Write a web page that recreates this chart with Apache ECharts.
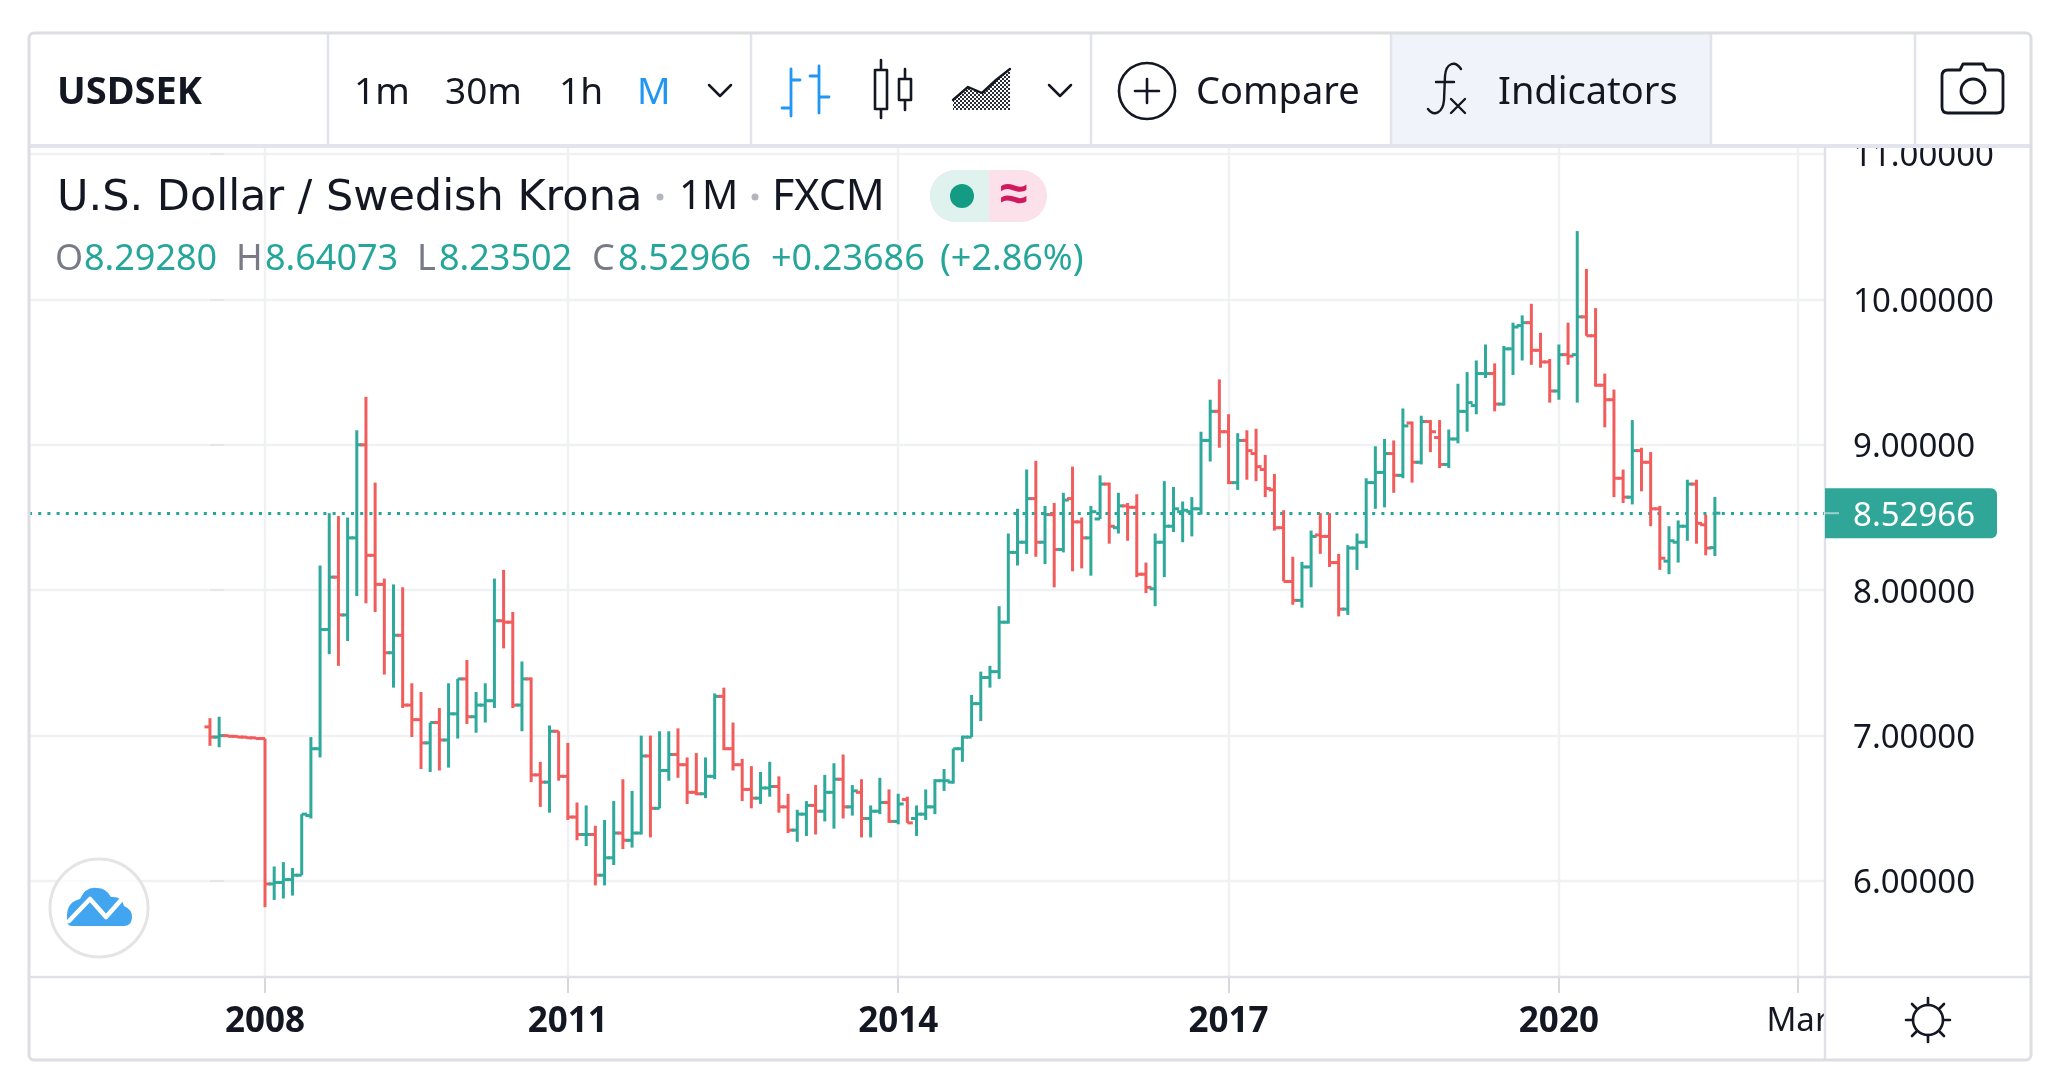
<!DOCTYPE html>
<html>
<head>
<meta charset="utf-8">
<style>html,body{margin:0;padding:0;background:#fff}#container{width:2048px;height:1076px}</style>
<script src="https://cdn.jsdelivr.net/npm/echarts@6/dist/echarts.min.js"></script>
</head>
<body>
<div id="container"></div>
<script>
// one entry per bar on the axis, months without data are simply not listed (tradingview style spacing)
var months = [
  '2007-07','2007-08','2007-09','2007-10','2007-11','2007-12',
  '2008-01','2008-02','2008-03','2008-04','2008-05','2008-06','2008-07','2008-08','2008-09',
  '2009-01','2009-02','2009-03','2009-04','2009-05','2009-06','2009-07','2009-08','2009-09','2009-10','2009-11','2009-12',
  '2010-01','2010-02','2010-03','2010-04','2010-05','2010-06','2010-07','2010-08','2010-09','2010-10','2010-11','2010-12',
  '2011-01','2011-02','2011-03','2011-04','2011-05','2011-06','2011-07','2011-08','2011-09','2011-10','2011-11','2011-12',
  '2012-01','2012-02','2012-03','2012-04','2012-05','2012-06','2012-07','2012-08','2012-09','2012-10','2012-11','2012-12',
  '2013-01','2013-02','2013-03','2013-04','2013-05','2013-06','2013-07','2013-08','2013-09','2013-10','2013-11','2013-12',
  '2014-01','2014-02','2014-03','2014-04','2014-05','2014-06','2014-07','2014-08','2014-09','2014-10','2014-11','2014-12',
  '2015-01','2015-02','2015-03','2015-04','2015-05','2015-06','2015-07','2015-08','2015-09','2015-10','2015-11','2015-12',
  '2016-01','2016-02','2016-03','2016-04','2016-05','2016-06','2016-07','2016-08','2016-09','2016-10','2016-11','2016-12',
  '2017-01','2017-02','2017-03','2017-04','2017-05','2017-06','2017-07','2017-08','2017-09','2017-10','2017-11','2017-12',
  '2018-01','2018-02','2018-03','2018-04','2018-05','2018-06','2018-07','2018-08','2018-09','2018-10','2018-11','2018-12',
  '2019-01','2019-02','2019-03','2019-04','2019-05','2019-06','2019-07','2019-08','2019-09','2019-10','2019-11','2019-12',
  '2020-01','2020-02','2020-03','2020-04','2020-05','2020-06','2020-07','2020-08','2020-09','2020-10','2020-11','2020-12',
  '2021-01','2021-02','2021-03','2021-04','2021-05','2021-06',
  '2021-07','2021-08','2021-09','2021-10','2021-11','2021-12','2022-01','2022-02','2022-03'
];

var opens = [
  7.06,6.99,7.00,6.995,6.99,6.985,6.98,5.98,5.99,6.01,
  6.04,6.45,6.91,7.73,8.09,7.83,8.36,9.00,8.24,8.04,
  7.57,7.69,7.21,7.11,6.95,7.09,6.97,7.15,7.39,7.13,
  7.21,7.24,7.79,7.78,7.21,7.39,6.73,6.68,7.03,6.72,
  6.44,6.32,6.32,6.04,6.16,6.33,6.28,6.33,6.86,6.50,
  6.76,6.87,6.80,6.61,6.60,6.72,7.27,6.91,6.80,6.63,
  6.57,6.64,6.65,6.51,6.35,6.46,6.52,6.48,6.61,6.70,
  6.51,6.61,6.43,6.48,6.54,6.41,6.56,6.43,6.46,6.51,
  6.69,6.68,6.91,6.99,7.22,7.40,7.44,7.78,8.26,8.33,
  8.63,8.33,8.52,8.28,8.63,8.47,8.36,8.49,8.73,8.43,
  8.58,8.57,8.11,8.01,8.33,8.44,8.54,8.54,8.56,9.03,
  9.23,9.09,8.74,9.03,8.94,8.83,8.69,8.43,8.06,7.93,
  8.16,8.38,8.37,8.19,7.87,8.29,8.33,8.74,8.81,8.94,
  8.79,9.15,8.88,9.16,9.05,8.865,9.04,9.23,9.27,9.49,
  9.49,9.28,9.66,9.82,9.84,9.65,9.57,9.37,9.62,9.62,
  9.88,9.75,9.41,9.31,8.77,8.64,8.96,8.88,8.56,8.20,
  8.33,8.44,8.73,8.45,8.2928
];
var highs = [
  7.12,7.13,7.005,7.00,6.995,6.99,6.98,6.10,6.13,6.09,
  6.46,6.99,8.17,8.53,8.51,8.50,9.10,9.33,8.74,8.08,
  8.04,8.02,7.36,7.30,7.09,7.19,7.36,7.39,7.52,7.30,
  7.36,8.08,8.14,7.85,7.51,7.40,6.82,7.07,7.03,6.95,
  6.54,6.52,6.38,6.42,6.55,6.70,6.62,7.00,7.00,7.03,
  7.03,7.05,6.85,6.88,6.85,7.29,7.33,7.09,6.84,6.79,
  6.75,6.82,6.72,6.60,6.49,6.55,6.66,6.73,6.81,6.87,
  6.66,6.70,6.52,6.71,6.63,6.60,6.58,6.52,6.63,6.70,
  6.77,6.91,7.00,7.28,7.44,7.48,7.89,8.39,8.56,8.83,
  8.89,8.58,8.60,8.67,8.85,8.50,8.58,8.79,8.74,8.67,
  8.60,8.66,8.19,8.39,8.75,8.71,8.61,8.64,9.09,9.31,
  9.45,9.21,9.08,9.10,9.11,8.93,8.80,8.55,8.23,8.195,
  8.41,8.53,8.53,8.25,8.31,8.39,8.77,8.99,9.04,9.03,
  9.25,9.16,9.20,9.17,9.17,9.105,9.42,9.50,9.58,9.69,
  9.56,9.68,9.84,9.89,9.97,9.77,9.59,9.69,9.84,10.47,
  10.21,9.94,9.49,9.38,8.83,9.17,8.98,8.95,8.58,8.44,
  8.48,8.76,8.76,8.52,8.64073
];
var lows = [
  6.93,6.92,6.99,6.985,6.98,6.975,5.82,5.87,5.88,5.90,
  6.04,6.43,6.85,7.56,7.48,7.65,7.96,7.91,7.85,7.42,
  7.33,7.19,6.99,6.77,6.75,6.76,6.78,6.98,7.08,7.02,
  7.09,7.19,7.60,7.19,7.03,6.68,6.51,6.47,6.69,6.42,
  6.28,6.24,5.97,5.97,6.11,6.22,6.23,6.32,6.30,6.50,
  6.69,6.71,6.53,6.59,6.57,6.70,6.90,6.76,6.55,6.50,
  6.53,6.58,6.47,6.33,6.27,6.31,6.32,6.41,6.36,6.43,
  6.45,6.30,6.30,6.46,6.40,6.39,6.40,6.31,6.42,6.46,
  6.62,6.67,6.82,6.99,7.10,7.33,7.39,7.77,8.17,8.25,
  8.23,8.18,8.02,8.26,8.13,8.15,8.10,8.49,8.32,8.39,
  8.34,8.09,7.98,7.89,8.09,8.40,8.33,8.37,8.52,8.885,
  8.98,8.73,8.69,8.76,8.75,8.64,8.41,8.06,7.90,7.88,
  8.02,8.25,8.16,7.82,7.83,8.14,8.29,8.56,8.57,8.67,
  8.77,8.74,8.865,8.95,8.84,8.84,9.01,9.09,9.21,9.46,
  9.23,9.27,9.48,9.58,9.55,9.53,9.29,9.31,9.55,9.29,
  9.75,9.40,9.12,8.64,8.60,8.59,8.68,8.44,8.14,8.11,
  8.19,8.34,8.32,8.24,8.23502
];
var closes = [
  6.99,7.00,6.995,6.99,6.985,6.98,5.98,5.99,6.01,6.04,
  6.46,6.91,7.73,8.09,7.83,8.36,9.00,8.24,8.04,7.57,
  7.69,7.21,7.11,6.95,7.09,6.97,7.15,7.39,7.13,7.21,
  7.24,7.79,7.78,7.21,7.39,6.73,6.68,7.03,6.72,6.44,
  6.32,6.32,6.04,6.16,6.33,6.28,6.33,6.86,6.50,6.76,
  6.87,6.80,6.61,6.60,6.72,7.27,6.91,6.80,6.63,6.57,
  6.64,6.65,6.51,6.35,6.46,6.52,6.48,6.61,6.70,6.51,
  6.62,6.43,6.48,6.54,6.41,6.53,6.40,6.46,6.51,6.69,
  6.69,6.91,6.99,7.22,7.40,7.44,7.78,8.26,8.33,8.63,
  8.33,8.52,8.28,8.62,8.47,8.36,8.54,8.73,8.44,8.58,
  8.57,8.11,8.02,8.33,8.44,8.56,8.55,8.56,9.03,9.23,
  9.09,8.74,9.03,8.96,8.85,8.70,8.43,8.06,7.93,8.16,
  8.37,8.37,8.19,7.87,8.29,8.33,8.74,8.81,8.94,8.79,
  9.13,8.88,9.16,9.09,8.865,9.04,9.23,9.29,9.49,9.49,
  9.28,9.66,9.81,9.84,9.65,9.57,9.37,9.62,9.61,9.88,
  9.75,9.41,9.31,8.77,8.64,8.96,8.88,8.56,8.22,8.34,
  8.44,8.73,8.46,8.29,8.52966
];

var xTickMonths = ['2008-01','2011-01','2014-01','2017-01','2020-01','2022-03'];
var xTickLabels = ['2008','2011','2014','2017','2020','Mar'];
var yTicks = [6,7,8,9,10,11];

var upColor = '#26a69a', downColor = '#ef5350';
var barUp = '#2fa99b', barDown = '#f15c5c';
var font = '"Noto Sans", sans-serif';
var titleFont = '"DejaVu Sans", sans-serif';
var ink = '#131722', lineGray = '#e0e3eb', gridGray = '#eff1f3';

var xTicks = xTickMonths.map(function (m) { return months.indexOf(m); });
var lastClose = closes[closes.length - 1];
var bars = closes.map(function (c, i) { return [i, opens[i], highs[i], lows[i], c]; });

function renderBar(params, api) {
  var i = api.value(0);
  var top = api.coord([i, api.value(2)]);
  var bottom = api.coord([i, api.value(3)]);
  var open = api.coord([i, api.value(1)]);
  var close = api.coord([i, api.value(4)]);
  var style = {
    stroke: api.value(4) >= api.value(1) ? barUp : barDown,
    lineWidth: 3, fill: null, lineCap: 'butt'
  };
  return {
    type: 'group',
    children: [
      { type: 'line', shape: { x1: top[0], y1: top[1], x2: bottom[0], y2: bottom[1] }, style: style },
      { type: 'line', shape: { x1: open[0] - 5.5, y1: open[1], x2: open[0], y2: open[1] }, style: style },
      { type: 'line', shape: { x1: close[0], y1: close[1], x2: close[0] + 5.5, y2: close[1] }, style: style }
    ]
  };
}

// toolbar and frame helpers
function ln(x1, y1, x2, y2, color, w, z) {
  return { type: 'line', z: z || 50, shape: { x1: x1, y1: y1, x2: x2, y2: y2 },
    style: { stroke: color || lineGray, lineWidth: w || 2.5 } };
}
function txt(x, y, s, size, color, weight, family) {
  return { type: 'text', z: 52, x: x, y: y,
    style: { text: s, fill: color || ink, font: (weight || 'normal') + ' ' + (size || 38) + 'px ' + (family || font),
      textAlign: 'left', textVerticalAlign: 'middle' } };
}
// graphic has no path type, so each icon is registered as its own shape
var iconCount = 0;
function pth(d, color, w, fill) {
  var name = 'toolbarIcon' + (iconCount++);
  echarts.graphic.registerShape(name, echarts.graphic.extendPath(d, {}));
  return { type: name, z: 52,
    style: { stroke: color === null ? 'none' : (color || ink), lineWidth: w || 2.5, fill: fill || 'none', lineCap: 'round', lineJoin: 'round' } };
}

// dotted fill of the area style button
var dots = document.createElement('canvas');
dots.width = 4;
dots.height = 4;
var dotsCtx = dots.getContext('2d');
dotsCtx.fillStyle = '#2a2e39';
dotsCtx.fillRect(0, 0, 2, 2);
dotsCtx.fillRect(2, 2, 2, 2);

var elements = [
  // white panels over the axes
  { type: 'rect', z: 48, shape: { x: 29, y: 33, width: 2002, height: 113 }, style: { fill: '#fff' } },
  { type: 'rect', z: 48, shape: { x: 1391, y: 34, width: 320, height: 112 }, style: { fill: '#f0f3fa' } },
  { type: 'rect', z: 48, shape: { x: 1826, y: 979, width: 205, height: 80 }, style: { fill: '#fff' } },
  { type: 'rect', z: 51, shape: { x: 29, y: 33, width: 2002, height: 1027, r: 5 }, style: { fill: 'none', stroke: '#dcdee2', lineWidth: 3 } },
  ln(29, 146, 2031, 146, '#e3e5ee', 4),
  ln(328, 33, 328, 146), ln(751, 33, 751, 146), ln(1091, 33, 1091, 146),
  ln(1391, 33, 1391, 146), ln(1711, 33, 1711, 146), ln(1915, 33, 1915, 146),
  ln(1825, 146, 1825, 1060, '#dfe1e6', 2.5),
  ln(29, 977, 2031, 977, '#dfe1e6', 2.5),

  txt(57, 93, 'USDSEK', 38, ink, 'bold'),
  txt(354, 93, '1m', 37), txt(445, 93, '30m', 37), txt(559, 93, '1h', 37),
  txt(637, 93, 'M', 37, '#2196f3'),
  pth('M709,85 L720,96 L731,85', ink, 2.5),
  pth('M1049,85 L1060,96 L1071,85', ink, 2.5),

  // bar, candle and area style buttons
  pth('M791,69 L791,116 M782,108 L791,108 M791,80 L800,80 M819,66 L819,113 M810,76 L819,76 M819,97 L829,97', '#2196f3', 2.8),
  pth('M881,60 L881,70 M881,109 L881,118 M875,70 L887,70 L887,109 L875,109 Z M905,69 L905,79 M905,100 L905,110 M899,79 L911,79 L911,100 L899,100 Z', ink, 2.6),
  pth('M953,110 L953,100 L968,87 L982,93 L996,80 L1010,69 L1010,110 Z', null, 0, { image: dots, repeat: 'repeat' }),
  pth('M953,100 L968,87 L982,93 L996,80 L1010,69', ink, 2.4),

  { type: 'circle', z: 52, shape: { cx: 1147, cy: 91, r: 28 }, style: { fill: 'none', stroke: ink, lineWidth: 2.6 } },
  pth('M1135,91 L1159,91 M1147,79 L1147,103', ink, 2.6),
  txt(1196, 93, 'Compare', 38),
  pth('M1461,69 C1455,60 1446,63 1445,76 L1444,100 C1443,113 1434,117 1428,109 M1436,82 L1454,82 M1451,99 L1465,113 M1465,99 L1451,113', ink, 2.4),
  txt(1498, 93, 'Indicators', 38),
  pth('M1942,107 L1942,76 Q1942,70 1948,70 L1960,70 L1963,64 L1983,64 L1986,70 L1997,70 Q2003,70 2003,76 L2003,107 Q2003,113 1997,113 L1948,113 Q1942,113 1942,107 Z', ink, 2.8),
  { type: 'circle', z: 52, shape: { cx: 1973, cy: 91, r: 12 }, style: { fill: 'none', stroke: ink, lineWidth: 2.8 } },

  // legend rows
  txt(57, 199, 'U.S. Dollar / Swedish Krona', 43, ink, 'normal', titleFont),
  { type: 'circle', z: 52, shape: { cx: 660, cy: 197, r: 3.5 }, style: { fill: '#b2b5be' } },
  txt(679, 198, '1M', 40),
  { type: 'circle', z: 52, shape: { cx: 755, cy: 197, r: 3.5 }, style: { fill: '#b2b5be' } },
  txt(772, 198, 'FXCM', 43),
  { type: 'rect', z: 49, shape: { x: 930, y: 170, width: 117, height: 52, r: 26 }, style: { fill: '#fce0ea' } },
  { type: 'rect', z: 50, shape: { x: 930, y: 170, width: 59, height: 52, r: [26, 0, 0, 26] }, style: { fill: '#dff2ee' } },
  { type: 'circle', z: 52, shape: { cx: 962, cy: 196, r: 12 }, style: { fill: '#149b84' } },
  txt(1000, 196, '≈', 50, '#d11a5d', 'bold'),

  txt(55, 260, 'O', 36, '#787b86'), txt(84, 260, '8.29280', 36, upColor),
  txt(236, 260, 'H', 36, '#787b86'), txt(265, 260, '8.64073', 36, upColor),
  txt(417, 260, 'L', 36, '#787b86'), txt(439, 260, '8.23502', 36, upColor),
  txt(592, 260, 'C', 36, '#787b86'), txt(618, 260, '8.52966', 36, upColor),
  txt(771, 260, '+0.23686', 36, upColor), txt(940, 260, '(+2.86%)', 36, upColor),

  // logo badge and the theme button in the corner
  { type: 'circle', z: 47, shape: { cx: 99, cy: 908, r: 49 }, style: { fill: 'rgba(255,255,255,0.7)', stroke: '#e4e4e4', lineWidth: 3 } },
  pth('M72,926 Q66,926 67,916 Q67,902 80,899 Q86,886 97,888 Q106,888 111,897 Q122,896 124,906 Q133,910 132,918 Q131,926 124,926 Z', null, 0, '#42a5f0'),
  pth('M69,921 L90,899 L106,917 L122,899', '#fff', 4.5),

  { type: 'circle', z: 52, shape: { cx: 1928, cy: 1020, r: 15 }, style: { fill: 'none', stroke: ink, lineWidth: 2.6 } },
  pth('M1928,998 L1928,1005 M1928,1035 L1928,1042 M1906,1020 L1913,1020 M1943,1020 L1950,1020 M1912,1004 L1917,1009 M1939,1031 L1944,1036 M1912,1036 L1917,1031 M1939,1009 L1944,1004', ink, 2.6)
];

var dom = document.getElementById('container');
var myChart = echarts.init(dom);

var option = {
  animation: false,
  backgroundColor: '#fff',
  grid: { left: 29, right: 223, top: 146, bottom: 99 },
  xAxis: {
    type: 'value',
    min: -19.72,
    max: 176,
    axisLine: { show: false },
    axisTick: { show: true, length: 16, customValues: xTicks, lineStyle: { color: '#d6d8dd', width: 2 } },
    axisLabel: {
      customValues: xTicks,
      margin: 28,
      hideOverlap: false,
      showMinLabel: true,
      showMaxLabel: true,
      formatter: function (v) {
        var s = xTickLabels[xTicks.indexOf(v)];
        return s === 'Mar' ? '{n|' + s + '}' : '{b|' + s + '}';
      },
      rich: {
        b: { fontFamily: font, fontSize: 35, fontWeight: 'bold', color: ink },
        n: { fontFamily: font, fontSize: 33, color: ink }
      }
    },
    splitLine: { show: true, lineStyle: { color: gridGray, width: 2.4 } }
  },
  yAxis: {
    type: 'value',
    position: 'right',
    min: 5.34,
    max: 11.055,
    axisLine: { show: false },
    axisTick: { show: true, length: 14, customValues: yTicks, lineStyle: { color: '#e4e6ea', width: 2 } },
    axisLabel: {
      customValues: yTicks,
      margin: 28,
      formatter: function (v) { return '{v|' + v.toFixed(5) + '}'; },
      rich: {
        v: { fontFamily: font, fontSize: 33, color: ink, padding: [6, 0, 0, 0] }
      }
    },
    splitLine: { show: true, lineStyle: { color: gridGray, width: 2.4 } }
  },
  series: [{
    type: 'custom',
    renderItem: renderBar,
    data: bars,
    encode: { x: 0, y: [1, 2, 3, 4] },
    clip: true,
    z: 5,
    markLine: {
      silent: true,
      symbol: 'none',
      label: { show: false },
      lineStyle: { color: upColor, type: [3, 6.2], width: 2.8 },
      data: [{ yAxis: lastClose }]
    }
  }],
  graphic: { elements: elements }
};

myChart.setOption(option, true);

// price badge sits where the scale puts the last close
var priceY = myChart.convertToPixel({ yAxisIndex: 0 }, lastClose);
myChart.setOption({
  graphic: { elements: elements.concat([
    { type: 'rect', z: 53, shape: { x: 1825, y: priceY - 25, width: 172, height: 50, r: [0, 6, 6, 0] }, style: { fill: '#2fa698' } },
    ln(1825, priceY, 1839, priceY, 'rgba(255,255,255,0.5)', 2, 54),
    { type: 'text', z: 54, x: 1853, y: priceY + 3, style: { text: lastClose.toFixed(5), fill: '#fff', font: '33px ' + font, textAlign: 'left', textVerticalAlign: 'middle' } }
  ]) }
});
</script>
</body>
</html>
